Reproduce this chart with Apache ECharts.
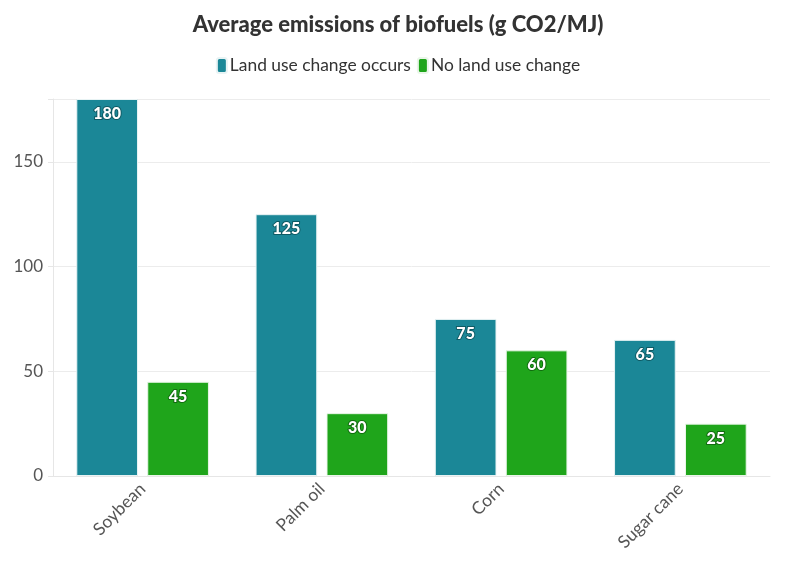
<!DOCTYPE html>
<html><head><meta charset="utf-8">
<script src="https://cdn.jsdelivr.net/npm/echarts@6/dist/echarts.min.js"></script>
<style>html,body{margin:0;padding:0;background:#fff}#c{width:796px;height:575px}</style>
</head><body><div id="c"></div>
<script>
const categories = ['Soybean', 'Palm oil', 'Corn', 'Sugar cane'];
const landUseChange = [180, 125, 75, 65];
const noLandUseChange = [45, 30, 60, 25];
const yTicks = [0, 50, 100, 150];
const FONT = 'Lato';
const chart = echarts.init(document.getElementById('c'));
const lbl = (border) => ({
  show: true, position: 'insideTop', distance: 7,
  color: '#fff', fontFamily: FONT, fontWeight: 900, fontSize: 16,
  textBorderColor: border, textBorderWidth: 2
});
chart.setOption({
  animation: false,
  title: {
    text: 'Average emissions of biofuels (g CO2/MJ)', left: 'center', top: 9,
    textStyle: { fontFamily: FONT, fontSize: 22, fontWeight: 900, color: '#333' }
  },
  legend: {
    top: 52, left: 'center', itemWidth: 10, itemHeight: 15, itemGap: 6,
    icon: 'roundRect',
    textStyle: { fontFamily: FONT, fontSize: 17.4, color: '#333', padding: [0, 0, 0, -2] }
  },
  grid: { left: 53, right: 26, top: 99, bottom: 99 },
  xAxis: {
    type: 'category', data: categories,
    axisLine: { lineStyle: { color: '#e6e6e6' } },
    axisTick: { alignWithLabel: true, lineStyle: { color: '#e6e6e6' }, length: 5 },
    axisLabel: { rotate: 45, fontFamily: FONT, fontSize: 17.5, color: '#555', margin: 10 }
  },
  yAxis: {
    type: 'value', min: 0, max: 180, interval: 50,
    axisLine: { show: true, lineStyle: { color: '#e6e6e6' } },
    axisTick: { show: true, length: 5, lineStyle: { color: '#e6e6e6' } },
    splitLine: { lineStyle: { color: '#ececec' } },
    axisLabel: {
      fontFamily: FONT, fontSize: 17, color: '#555', margin: 10,
      formatter: v => yTicks.includes(v) ? String(v) : ''
    }
  },
  series: [
    {
      name: 'Land use change occurs', type: 'bar', data: landUseChange,
      barGap: '15%', barCategoryGap: '26%',
      itemStyle: { color: '#1b8797', borderColor: '#e8f3f4', borderWidth: 1 },
      label: lbl('#0f5a64')
    },
    {
      name: 'No land use change', type: 'bar', data: noLandUseChange,
      itemStyle: { color: '#1fa51b', borderColor: '#e9f6e8', borderWidth: 1 },
      label: lbl('#126b10')
    }
  ]
});
</script></body></html>
